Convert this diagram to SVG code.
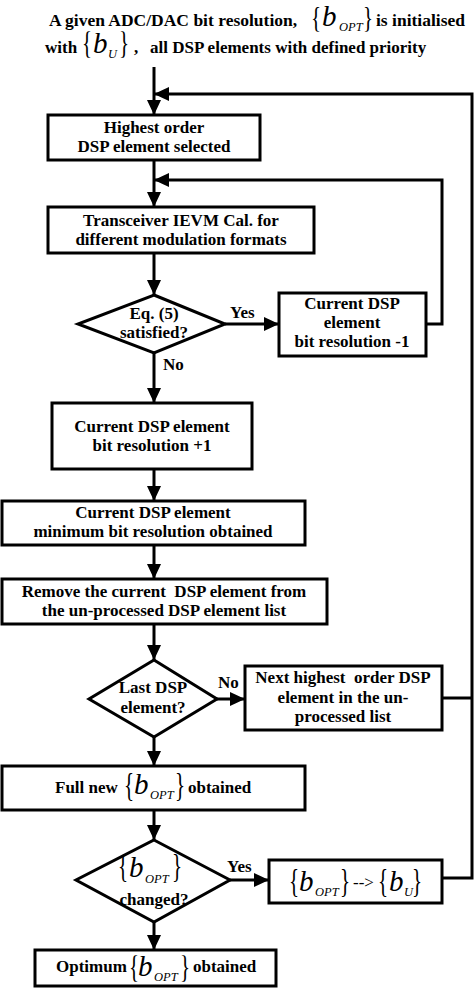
<svg xmlns="http://www.w3.org/2000/svg" width="474" height="988" viewBox="0 0 474 988">
<style>
  .box { fill: #ffffff; stroke: #000; stroke-width: 3; }
  .con { fill: none; stroke: #000; stroke-width: 3; }
  .t { font-family: "Liberation Serif", "Times New Roman", serif; font-weight: bold; font-size: 17px; fill: #000; }
  .h1 { font-size: 17.5px; }
  .c { text-anchor: middle; }
  .br { font-family: "Liberation Serif", "Times New Roman", serif; font-size: 21px; fill: #000; }
  .mb { font-family: "Liberation Serif", "Times New Roman", serif; font-style: italic; font-size: 29px; fill: #000; }
  .sub { font-family: "Liberation Serif", "Times New Roman", serif; font-style: italic; font-size: 12.5px; fill: #000; }
  .rm { font-family: "Liberation Serif", "Times New Roman", serif; font-size: 17px; fill: #000; }
</style>
<defs>
  <marker id="arr" viewBox="0 0 15 14" refX="15" refY="7" markerWidth="15" markerHeight="14" markerUnits="userSpaceOnUse" orient="auto">
    <path d="M0,0 L15,7 L0,14 z" fill="#000"/>
  </marker>
</defs>
<rect width="474" height="988" fill="#ffffff"/>

<g id="header">
  <text class="t h1" x="49" y="26">A given ADC/DAC bit resolution,</text>
  <text class="br" transform="translate(311,27) scale(1,1.45)">{</text>
  <text class="mb" x="322" y="26">b</text>
  <text class="sub" x="339" y="31">OPT</text>
  <text class="br" transform="translate(363,27) scale(1,1.45)">}</text>
  <text class="t h1" x="376" y="26">is initialised</text>
  <text class="t" x="45" y="53">with</text>
  <text class="br" transform="translate(82,54) scale(1,1.5)">{</text>
  <text class="mb" x="93" y="53">b</text>
  <text class="sub" x="108" y="58">U</text>
  <text class="br" transform="translate(119,54) scale(1,1.5)">}</text>
  <text class="t" x="134" y="53">,</text>
  <text class="t" x="150" y="53">all DSP elements with defined priority</text>
</g>

<g id="connectors">
  <path class="con" d="M154,67 V115" marker-end="url(#arr)"/>
  <path class="con" d="M442,878 H472 V94 H154" marker-end="url(#arr)"/>
  <path class="con" d="M442,698 H472"/>
  <path class="con" d="M154,160 V207" marker-end="url(#arr)"/>
  <path class="con" d="M426,324 H442 V180 H154" marker-end="url(#arr)"/>
  <path class="con" d="M154,253 V295" marker-end="url(#arr)"/>
  <path class="con" d="M225,324 H279" marker-end="url(#arr)"/>
  <path class="con" d="M154,353 V403" marker-end="url(#arr)"/>
  <path class="con" d="M154,469 V501" marker-end="url(#arr)"/>
  <path class="con" d="M154,545 V579" marker-end="url(#arr)"/>
  <path class="con" d="M154,624 V660" marker-end="url(#arr)"/>
  <path class="con" d="M217,699 H245" marker-end="url(#arr)"/>
  <path class="con" d="M154,737 V766" marker-end="url(#arr)"/>
  <path class="con" d="M154,810 V840" marker-end="url(#arr)"/>
  <path class="con" d="M230,880 H269" marker-end="url(#arr)"/>
  <path class="con" d="M154,922 V950" marker-end="url(#arr)"/>
  <text class="t" x="230" y="318">Yes</text>
  <text class="t" x="163" y="370">No</text>
  <text class="t" x="218" y="688">No</text>
  <text class="t" x="227" y="872">Yes</text>
</g>

<g id="n1">
  <rect class="box" x="48" y="115" width="212" height="45"/>
  <text class="t c" x="154" y="133">Highest order</text>
  <text class="t c" x="154" y="152">DSP element selected</text>
</g>

<g id="n2">
  <rect class="box" x="48" y="207" width="266" height="46"/>
  <text class="t c" x="181" y="226">Transceiver IEVM Cal. for</text>
  <text class="t c" x="181" y="245">different modulation formats</text>
</g>

<g id="d1">
  <polygon class="box" points="154,295 225,324 154,353 78,324"/>
  <text class="t c" x="154" y="319">Eq. (5)</text>
  <text class="t c" x="154" y="338">satisfied?</text>
</g>

<g id="n3">
  <rect class="box" x="279" y="293" width="147" height="63"/>
  <text class="t c" x="352" y="309">Current DSP</text>
  <text class="t c" x="352" y="328">element</text>
  <text class="t c" x="352" y="347">bit resolution -1</text>
</g>

<g id="n4">
  <rect class="box" x="52" y="403" width="200" height="66"/>
  <text class="t c" x="152" y="432">Current DSP element</text>
  <text class="t c" x="152" y="451">bit resolution +1</text>
</g>

<g id="n5">
  <rect class="box" x="2" y="501" width="303" height="44"/>
  <text class="t c" x="153" y="518">Current DSP element</text>
  <text class="t c" x="153" y="537">minimum bit resolution obtained</text>
</g>

<g id="n6">
  <rect class="box" x="2" y="579" width="325" height="45"/>
  <text class="t c" x="164" y="597" xml:space="preserve">Remove the current  DSP element from</text>
  <text class="t c" x="164" y="616">the un-processed DSP element list</text>
</g>

<g id="d2">
  <polygon class="box" points="154,660 217,699 154,737 89,699"/>
  <text class="t c" x="153" y="693">Last DSP</text>
  <text class="t c" x="153" y="713">element?</text>
</g>

<g id="n7">
  <rect class="box" x="245" y="666" width="197" height="64"/>
  <text class="t c" x="343" y="683" xml:space="preserve">Next highest  order DSP</text>
  <text class="t c" x="343" y="703">element in the un-</text>
  <text class="t c" x="343" y="722">processed list</text>
</g>

<g id="n8">
  <rect class="box" x="2" y="766" width="303" height="44"/>
  <text class="t" x="55" y="793">Full new</text>
  <text class="br" transform="translate(124,796) scale(1,1.6)">{</text>
  <text class="mb" x="134" y="794">b</text>
  <text class="sub" x="150" y="799">OPT</text>
  <text class="br" transform="translate(175,796) scale(1,1.6)">}</text>
  <text class="t" x="188" y="793">obtained</text>
</g>

<g id="d3">
  <polygon class="box" points="154,840 230,880 154,922 76,880"/>
  <text class="br" transform="translate(118,877) scale(1,1.6)">{</text>
  <text class="mb" x="129" y="877">b</text>
  <text class="sub" x="145" y="883">OPT</text>
  <text class="br" transform="translate(172,877) scale(1,1.6)">}</text>
  <text class="t c" x="154" y="905">changed?</text>
</g>

<g id="n9">
  <rect class="box" x="269" y="860" width="173" height="43"/>
  <text class="br" transform="translate(289,892) scale(1,1.6)">{</text>
  <text class="mb" x="299" y="891">b</text>
  <text class="sub" x="315" y="896">OPT</text>
  <text class="br" transform="translate(340,892) scale(1,1.6)">}</text>
  <text class="rm" x="353" y="888">--&gt;</text>
  <text class="br" transform="translate(378,892) scale(1,1.6)">{</text>
  <text class="mb" x="389" y="891">b</text>
  <text class="sub" x="404" y="896">U</text>
  <text class="br" transform="translate(412,892) scale(1,1.6)">}</text>
</g>

<g id="n10">
  <rect class="box" x="35" y="950" width="241" height="36"/>
  <text class="t" x="56" y="972">Optimum</text>
  <text class="br" transform="translate(129,978) scale(1,1.55)">{</text>
  <text class="mb" x="138" y="976">b</text>
  <text class="sub" x="154" y="981">OPT</text>
  <text class="br" transform="translate(180,978) scale(1,1.55)">}</text>
  <text class="t" x="193" y="972">obtained</text>
</g>
</svg>
